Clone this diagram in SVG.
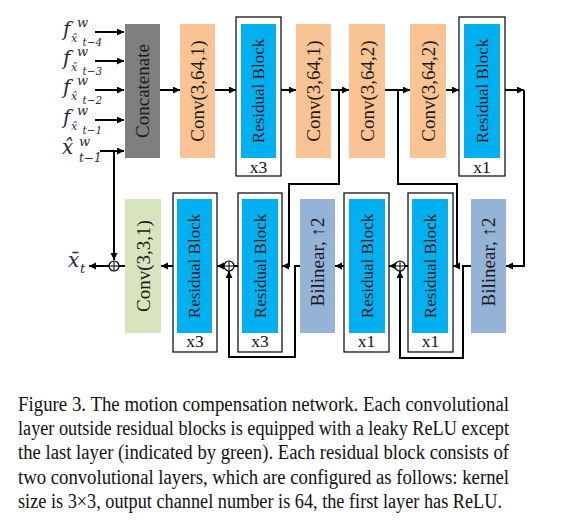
<svg xmlns="http://www.w3.org/2000/svg" width="584" height="527" viewBox="0 0 584 527">
<style>
.lbl{font-family:"Liberation Serif","Times New Roman",serif;fill:#1a1a1a;text-anchor:middle;dominant-baseline:central}
.cap{font-family:"Liberation Serif","Times New Roman",serif;font-size:20.5px;fill:#111}
.m{font-family:"DejaVu Serif",serif;font-style:italic;fill:#1f2a48}
.frame{fill:#fff;stroke:#000;stroke-width:1.2}
.rb{fill:#00b0f0}
.conv{fill:#f9c393}
.bil{fill:#95b3d7}
.cn{stroke:#000;stroke-width:2;fill:none}
.sum{fill:#fff;stroke:#000;stroke-width:1.2}
.num{font-family:"Liberation Serif","Times New Roman",serif;font-size:17.5px;fill:#111;text-anchor:middle}
</style>
<defs>
<marker id="ah" markerWidth="8" markerHeight="8" refX="7" refY="3.5" orient="auto" markerUnits="userSpaceOnUse">
<path d="M0,0 L7,3.5 L0,7 z" fill="#000"/>
</marker>
</defs>
<rect width="584" height="527" fill="#fff"/>

<!-- inputs -->
<g id="inputs">
<text class="m" x="63" y="36" font-size="20">f</text><text class="m" x="77" y="27" font-size="13">w</text><text class="m" x="71" y="42" font-size="11">x̂</text><text class="m" x="82.5" y="45.5" font-size="10.5">t−4</text>
<text class="m" x="63" y="65" font-size="20">f</text><text class="m" x="77" y="56" font-size="13">w</text><text class="m" x="71" y="71" font-size="11">x̂</text><text class="m" x="82.5" y="74.5" font-size="10.5">t−3</text>
<text class="m" x="63" y="94" font-size="20">f</text><text class="m" x="77" y="85" font-size="13">w</text><text class="m" x="71" y="100" font-size="11">x̂</text><text class="m" x="82.5" y="103.5" font-size="10.5">t−2</text>
<text class="m" x="63" y="124" font-size="20">f</text><text class="m" x="77" y="115" font-size="13">w</text><text class="m" x="71" y="130" font-size="11">x̂</text><text class="m" x="82.5" y="133.5" font-size="10.5">t−1</text>
<text class="m" x="62" y="154" font-size="20">x̂</text><text class="m" x="79" y="146" font-size="13">w</text><text class="m" x="79" y="162" font-size="12">t−1</text>
</g>

<g id="output">
<text class="m" x="68" y="267" font-size="20" fill="#1f3864">x̄</text><text class="m" x="80" y="273" font-size="13" fill="#1f3864">t</text>
</g>

<!-- top row -->
<g id="concat"><rect x="125" y="24" width="35" height="134" fill="#7f7f7f"/><text class="lbl" font-size="19" transform="translate(142.5,91) rotate(-90)">Concatenate</text></g>
<g id="conv1"><rect class="conv" x="180" y="24" width="35" height="134"/><text class="lbl" font-size="19" transform="translate(197.5,91) rotate(-90)">Conv(3,64,1)</text></g>
<g id="res1"><rect class="frame" x="236" y="17" width="45" height="159"/><rect class="rb" x="241" y="24" width="35" height="134"/><text class="lbl" font-size="17" transform="translate(258.5,91) rotate(-90)">Residual Block</text><text class="num" x="258.5" y="173">x3</text></g>
<g id="conv2"><rect class="conv" x="296" y="24" width="35" height="134"/><text class="lbl" font-size="19" transform="translate(313.5,91) rotate(-90)">Conv(3,64,1)</text></g>
<g id="conv3"><rect class="conv" x="349" y="24" width="36" height="134"/><text class="lbl" font-size="19" transform="translate(367,91) rotate(-90)">Conv(3,64,2)</text></g>
<g id="conv4"><rect class="conv" x="410" y="24" width="36" height="134"/><text class="lbl" font-size="19" transform="translate(428,91) rotate(-90)">Conv(3,64,2)</text></g>
<g id="res2"><rect class="frame" x="459" y="17" width="46" height="159"/><rect class="rb" x="464" y="24" width="36" height="134"/><text class="lbl" font-size="17" transform="translate(482,91) rotate(-90)">Residual Block</text><text class="num" x="482" y="173">x1</text></g>

<!-- bottom row -->
<g id="convout"><rect x="125" y="199" width="36" height="134" fill="#d7e4bd"/><text class="lbl" font-size="19" transform="translate(143,266) rotate(-90)">Conv(3,3,1)</text></g>
<g id="res3"><rect class="frame" x="173" y="193" width="44" height="159"/><rect class="rb" x="177" y="199" width="35" height="134"/><text class="lbl" font-size="17" transform="translate(194.5,266) rotate(-90)">Residual Block</text><text class="num" x="195" y="347">x3</text></g>
<g id="res4"><rect class="frame" x="238" y="193" width="44" height="159"/><rect class="rb" x="242" y="199" width="36" height="134"/><text class="lbl" font-size="17" transform="translate(260,266) rotate(-90)">Residual Block</text><text class="num" x="260" y="347">x3</text></g>
<g id="bil1"><rect class="bil" x="300" y="199" width="35" height="134"/><text class="lbl" font-size="19" transform="translate(317.5,262) rotate(-90)">Bilinear, ↑2</text></g>
<g id="res5"><rect class="frame" x="344" y="193" width="45" height="159"/><rect class="rb" x="349" y="199" width="36" height="134"/><text class="lbl" font-size="17" transform="translate(367,266) rotate(-90)">Residual Block</text><text class="num" x="366.5" y="347">x1</text></g>
<g id="res6"><rect class="frame" x="408" y="193" width="45" height="159"/><rect class="rb" x="412" y="199" width="36" height="134"/><text class="lbl" font-size="17" transform="translate(430,266) rotate(-90)">Residual Block</text><text class="num" x="430.5" y="347">x1</text></g>
<g id="bil2"><rect class="bil" x="471" y="199" width="35" height="134"/><text class="lbl" font-size="19" transform="translate(488.5,262) rotate(-90)">Bilinear, ↑2</text></g>

<!-- connectors -->
<g id="connectors">
<path class="cn" d="M95,32 H124" marker-end="url(#ah)"/>
<path class="cn" d="M95,61 H124" marker-end="url(#ah)"/>
<path class="cn" d="M95,90 H124" marker-end="url(#ah)"/>
<path class="cn" d="M95,120 H124" marker-end="url(#ah)"/>
<path class="cn" d="M100,151 H124" marker-end="url(#ah)"/>
<path class="cn" d="M114,151 V260" marker-end="url(#ah)"/>
<path class="cn" d="M160,90 H180" marker-end="url(#ah)"/>
<path class="cn" d="M215,90 H236" marker-end="url(#ah)"/>
<path class="cn" d="M281,90 H296" marker-end="url(#ah)"/>
<path class="cn" d="M331,90 H349" marker-end="url(#ah)"/>
<path class="cn" d="M385,90 H410" marker-end="url(#ah)"/>
<path class="cn" d="M446,90 H459" marker-end="url(#ah)"/>
<path class="cn" d="M505,90 H524" marker-end="url(#ah)"/>
<path class="cn" d="M524,90 V266 H506" marker-end="url(#ah)"/>
<path class="cn" d="M339,90 V184 H289 V266 H282" marker-end="url(#ah)"/>
<path class="cn" d="M398,90 V184 H457 V266 H453" marker-end="url(#ah)"/>
<path class="cn" d="M471,266 H463 V358 H400 V271" marker-end="url(#ah)"/>
<path class="cn" d="M300,266 H295 V357 H229 V271" marker-end="url(#ah)"/>
<path class="cn" d="M408,266 H405"/>
<path class="cn" d="M395,266 H389" marker-end="url(#ah)"/>
<path class="cn" d="M344,266 H335" marker-end="url(#ah)"/>
<path class="cn" d="M238,266 H234"/>
<path class="cn" d="M224,266 H217" marker-end="url(#ah)"/>
<path class="cn" d="M173,266 H161" marker-end="url(#ah)"/>
<path class="cn" d="M125,266 H119"/>
<path class="cn" d="M109,266 H89" marker-end="url(#ah)"/>
<g id="sum1"><circle class="sum" cx="114" cy="266" r="5"/><path d="M109,266 H119 M114,261 V271" stroke="#000" stroke-width="1"/></g>
<g id="sum2"><circle class="sum" cx="229" cy="266" r="5"/><path d="M224,266 H234 M229,261 V271" stroke="#000" stroke-width="1"/></g>
<g id="sum3"><circle class="sum" cx="400" cy="266" r="5"/><path d="M395,266 H405 M400,261 V271" stroke="#000" stroke-width="1"/></g>
</g>

<g id="caption">
<text class="cap" x="18" y="411" textLength="491" lengthAdjust="spacingAndGlyphs">Figure 3. The motion compensation network. Each convolutional</text>
<text class="cap" x="18" y="435" textLength="491" lengthAdjust="spacingAndGlyphs">layer outside residual blocks is equipped with a leaky ReLU except</text>
<text class="cap" x="18" y="459.3" textLength="491" lengthAdjust="spacingAndGlyphs">the last layer (indicated by green). Each residual block consists of</text>
<text class="cap" x="18" y="483.5" textLength="491" lengthAdjust="spacingAndGlyphs">two convolutional layers, which are configured as follows: kernel</text>
<text class="cap" x="18" y="507.5" textLength="484" lengthAdjust="spacingAndGlyphs">size is 3×3, output channel number is 64, the first layer has ReLU.</text>
</g>
</svg>
